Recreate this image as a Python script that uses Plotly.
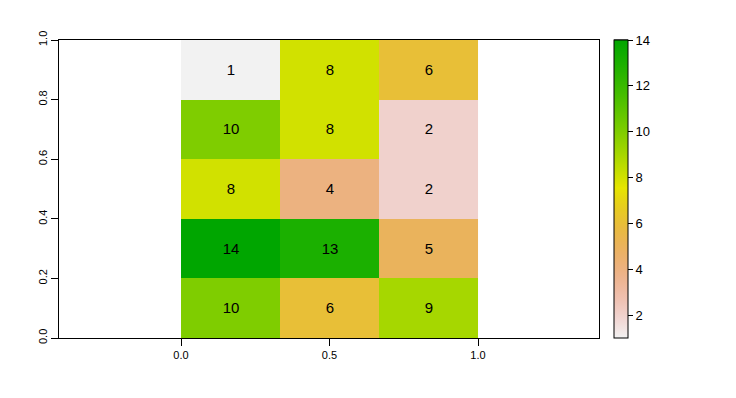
import colorsys
import plotly.graph_objects as go

# Data
col_centers = [1/6, 0.5, 5/6]
row_centers = [0.1, 0.3, 0.5, 0.7, 0.9]
# rows from bottom (y=0.1) to top (y=0.9)
values = [
    [10, 6, 9],
    [14, 13, 5],
    [8, 4, 2],
    [10, 8, 2],
    [1, 8, 6],
]
x_ticks = [0.0, 0.5, 1.0]
x_ticklabels = ["0.0", "0.5", "1.0"]
y_ticks = [0.0, 0.2, 0.4, 0.6, 0.8, 1.0]
y_ticklabels = ["0.0", "0.2", "0.4", "0.6", "0.8", "1.0"]
cb_ticks = [2, 4, 6, 8, 10, 12, 14]
zmin, zmax = 1, 14


def terrain_colors(n):
    k = n // 2
    def seq(a, b, m):
        if m == 1:
            return [a]
        return [a + (b - a) * i / (m - 1) for i in range(m)]
    cols = []
    hs, ss, vs = seq(4/12, 2/12, k), seq(1, 1, k), seq(0.65, 0.9, k)
    for h, s, v in zip(hs, ss, vs):
        cols.append(colorsys.hsv_to_rgb(h, s, v))
    m = n - k + 1
    hs, ss, vs = seq(2/12, 0, m)[1:], seq(1, 0, m)[1:], seq(0.9, 0.95, m)[1:]
    for h, s, v in zip(hs, ss, vs):
        cols.append(colorsys.hsv_to_rgb(h, s, v))
    return ["rgb(%d,%d,%d)" % tuple(round(c * 255) for c in rgb) for rgb in cols]


pal = list(reversed(terrain_colors(255)))
colorscale = [[i / (len(pal) - 1), c] for i, c in enumerate(pal)]

font = "Liberation Sans, Arial, sans-serif"

plot_w = 736 - 59 - 137
cb_x = (614 - 59) / plot_w
cb_thick = 14

fig = go.Figure(
    go.Heatmap(
        x=col_centers,
        y=row_centers,
        z=values,
        zmin=zmin,
        zmax=zmax,
        colorscale=colorscale,
        text=values,
        texttemplate="%{text}",
        textfont=dict(size=15, color="black", family=font),
        hoverinfo="skip",
        colorbar=dict(
            x=cb_x,
            xanchor="left",
            xref="paper",
            y=1,
            yanchor="top",
            len=1,
            lenmode="fraction",
            thickness=cb_thick,
            outlinewidth=1,
            outlinecolor="black",
            ticks="outside",
            ticklen=5,
            tickcolor="black",
            tickvals=cb_ticks,
            ticktext=[str(t) for t in cb_ticks],
            tickfont=dict(size=13, color="black", family=font),
            xpad=0,
            ypad=0,
        ),
    )
)

# tick lines crossing the colour bar (as in the R legend)
for t in cb_ticks:
    yp = (t - zmin) / (zmax - zmin)
    fig.add_shape(
        type="line", xref="paper", yref="paper",
        x0=cb_x, x1=cb_x + cb_thick / plot_w, y0=yp, y1=yp,
        line=dict(color="black", width=1),
    )

fig.update_layout(
    width=736,
    height=398,
    margin=dict(l=59, r=137, t=40, b=60),
    plot_bgcolor="white",
    paper_bgcolor="white",
    font=dict(family=font, color="black"),
    xaxis=dict(
        range=[-0.4108, 1.4074],
        tickvals=x_ticks,
        ticktext=x_ticklabels,
        ticks="outside",
        ticklen=7,
        tickcolor="black",
        showline=True,
        linecolor="black",
        linewidth=1,
        mirror=True,
        showgrid=False,
        zeroline=False,
        tickfont=dict(size=11, color="black"),
    ),
    yaxis=dict(
        range=[0, 1],
        tickvals=y_ticks,
        ticktext=y_ticklabels,
        tickangle=-90,
        ticks="outside",
        ticklen=7,
        tickcolor="black",
        showline=True,
        linecolor="black",
        linewidth=1,
        mirror=True,
        showgrid=False,
        zeroline=False,
        tickfont=dict(size=11, color="black"),
    ),
)

fig.write_html("out.html", config={"displayModeBar": False})

with open("out.html", encoding="utf-8") as f:
    html = f.read()
html = html.replace("<body>", '<body style="margin:0;padding:0">', 1)
with open("out.html", "w", encoding="utf-8") as f:
    f.write(html)
